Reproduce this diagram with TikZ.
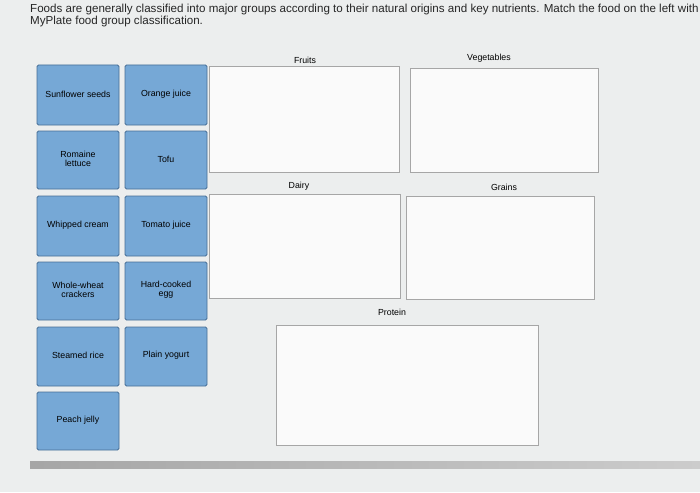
\documentclass[tikz,border=0pt]{standalone}
\usepackage{fontspec}
\setmainfont{Liberation Sans}
\begin{document}
\begin{tikzpicture}[x=1pt,y=-1pt,
  food/.style={draw={rgb,255:red,70;green,110;blue,150},line width=0.8pt,fill={rgb,255:red,118;green,168;blue,214},rounded corners=1.5pt},
  drop/.style={draw=black!35,line width=0.7pt,fill=white!96!gray},
  lab/.style={font=\fontsize{8.8}{10}\selectfont}]
\useasboundingbox[fill={rgb,255:red,236;green,238;blue,238}] (0,0) rectangle (700,492);
\node[anchor=north west,align=left,font=\fontsize{11.6}{12}\selectfont,inner sep=0pt,text=black!85] (q) at (30,4) {Foods are generally classified into major groups according to their natural origins and key nutrients. Match the food on the left with its\\MyPlate food group classification.};
% food cards
\foreach \nm/\x/\ya/\yb/\t in {
 a/37/65/125/{Sunflower seeds}, b/125/65/125/{Orange juice},
 c/37/131/189/{Romaine\\lettuce}, d/125/131/189/{Tofu},
 e/37/196/256/{Whipped cream}, f/125/196/256/{Tomato juice},
 g/37/262/320/{Whole-wheat\\crackers}, h/125/262/320/{Hard-cooked\\egg},
 i/37/327/386/{Steamed rice}, j/125/327/386/{Plain yogurt},
 k/37/392/450/{Peach jelly}}
 {\draw[food] (\x,\ya) rectangle (\x+82,\yb);
  \node[align=center,font=\fontsize{8.8}{8.8}\selectfont,inner sep=0pt] (\nm) at (\x+41,{(\ya+\yb)/2-1}) {\t};}
% drop zones
\draw[drop] (209,66) rectangle (399,172); \node[lab] (fr) at (305,60) {Fruits};
\draw[drop] (410,68) rectangle (598,172); \node[lab] (ve) at (489,58) {Vegetables};
\draw[drop] (209,194) rectangle (400,298); \node[lab] (da) at (299,186) {Dairy};
\draw[drop] (406,196) rectangle (594,299); \node[lab] (gr) at (504,187) {Grains};
\draw[drop] (276,325) rectangle (538,445); \node[lab] (pr) at (392,312) {Protein};
% bottom bar
\fill[left color=black!35,right color=black!20] (30,461) rectangle (700,468);
\end{tikzpicture}
\end{document}
